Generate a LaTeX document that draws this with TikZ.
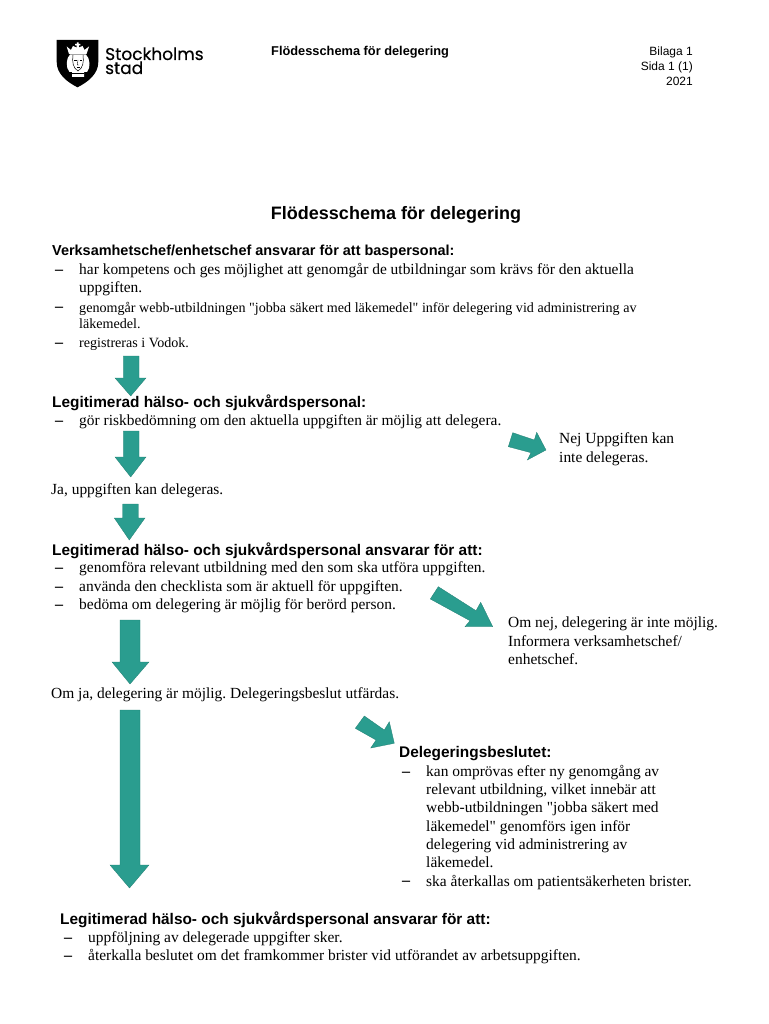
\documentclass[tikz,border=0pt]{standalone}
\usepackage{fontspec}
\setsansfont{Liberation Sans}
\newfontfamily\brodfont{Liberation Serif}
\newfontfamily\logofont[FakeBold=0.4]{Poppins}
\definecolor{pilfarg}{HTML}{2A9D8F}
\tikzset{
  pil/.style={fill=pilfarg, draw=pilfarg!80!black, line width=0.3pt},
  brod/.style={anchor=base west, inner sep=0pt, font=\brodfont\frenchspacing\fontsize{15.45}{16}\selectfont},
  rubrik/.style={anchor=base west, inner sep=0pt, font=\sffamily\bfseries\fontsize{15.4}{16}\selectfont},
  sidhuvud/.style={anchor=base east, inner sep=0pt, font=\sffamily\fontsize{12}{14}\selectfont},
  streck/.style={anchor=base west, inner sep=0pt, font=\brodfont\bfseries\fontsize{16}{16}\selectfont},
}
\begin{document}
\begin{tikzpicture}[x=1pt, y=-1pt]
  \useasboundingbox (0,0) rectangle (768,1024);

  % Logotyp
  \fill[black] (56.7,40) -- (98.3,40) -- (98.3,62) .. controls (98.3,74) and (88,82) .. (77.5,87.3)
    .. controls (67,82) and (56.7,74) .. (56.7,62) -- cycle;
  % krona
  \fill[white] (66.7,46.5) -- (71,50) -- (73,46) -- (76.5,47.5) -- (76.5,45.5) -- (75,45.5) -- (75,44) -- (76.8,44) -- (76.8,42.5)
    -- (78.5,42.5) -- (78.5,44) -- (80.3,44) -- (80.3,45.5) -- (78.8,45.5) -- (78.8,47.5) -- (82.5,46) -- (84.5,50) -- (89,46.5)
    -- (86.5,54) -- (69,54) -- cycle;
  % hår och hals
  \fill[white] (70,54.5) .. controls (66,58) and (65.5,68) .. (69.5,72) -- (72,72) -- (72,77) -- (84,77) -- (84,72)
    -- (87,72) .. controls (91,68) and (90,58) .. (86,54.5) -- cycle;
  % ansikte
  \draw[black, line width=0.5pt] (73,55) .. controls (72,62) and (73,68) .. (78,71) .. controls (83,68) and (84,62) .. (83,55);
  \draw[black, line width=0.5pt] (74,60) -- (76.5,60) (79.5,60) -- (82,60);
  \draw[black, line width=0.4pt] (78,60) -- (77.3,65) -- (79,65);
  \draw[black, line width=0.4pt] (76.5,67.5) -- (79.8,67.5);
  \draw[black, line width=0.4pt] (72,73.5) -- (84,73.5);
  \node[anchor=base west, inner sep=0pt, font=\logofont\fontsize{17}{20}\selectfont] (logo1) at (105,60) {Stockholms};
  \node[anchor=base west, inner sep=0pt, font=\logofont\fontsize{17}{20}\selectfont] (logo2) at (105,74) {stad};

  % Sidhuvud
  \node[anchor=base west, inner sep=0pt, font=\sffamily\bfseries\fontsize{12.8}{14}\selectfont] (huvud) at (271,56) {Flödesschema för delegering};
  \node[sidhuvud] (bilaga) at (693,56) {Bilaga 1};
  \node[sidhuvud] (sida) at (693,71) {Sida 1 (1)};
  \node[sidhuvud] (ar) at (693,86) {2021};

  % Titel
  \node[anchor=base, inner sep=0pt, font=\sffamily\bfseries\fontsize{18}{20}\selectfont] (titel) at (396,220) {Flödesschema för delegering};

  % Verksamhetschef
  \node[rubrik, font=\sffamily\bfseries\fontsize{14.45}{16}\selectfont] (r1) at (52,255) {Verksamhetschef/enhetschef ansvarar för att baspersonal:};
  \node[streck] (s1) at (55,274) {–};
  \node[brod] (t1a) at (79,274) {har kompetens och ges möjlighet att genomgår de utbildningar som krävs för den aktuella};
  \node[brod] (t1b) at (79,292) {uppgiften.};
  \node[streck] (s2) at (55,311) {–};
  \node[brod, font=\brodfont\fontsize{14.1}{16}\selectfont] (t2a) at (79,312) {genomgår webb-utbildningen "jobba säkert med läkemedel" inför delegering vid administrering av};
  \node[brod, font=\brodfont\fontsize{14.1}{16}\selectfont] (t2b) at (79,328) {läkemedel.};
  \node[streck] (s3) at (55,347) {–};
  \node[brod, font=\brodfont\fontsize{14.1}{16}\selectfont] (t3) at (79,347) {registreras i Vodok.};

  % Legitimerad 1
  \node[rubrik] (r2) at (52,407) {Legitimerad hälso- och sjukvårdspersonal:};
  \node[streck] (s4) at (55,425) {–};
  \node[brod] (t4) at (79,425) {gör riskbedömning om den aktuella uppgiften är möjlig att delegera.};
  \node[brod] (nej1) at (559,443) {Nej Uppgiften kan};
  \node[brod] (nej2) at (559,462) {inte delegeras.};
  \node[brod] (ja) at (51,494) {Ja, uppgiften kan delegeras.};

  % Legitimerad 2
  \node[rubrik] (r3) at (52,555) {Legitimerad hälso- och sjukvårdspersonal ansvarar för att:};
  \node[streck] (s5) at (55,572) {–};
  \node[brod] (t5) at (79,572) {genomföra relevant utbildning med den som ska utföra uppgiften.};
  \node[streck] (s6) at (55,591) {–};
  \node[brod] (t6) at (79,591) {använda den checklista som är aktuell för uppgiften.};
  \node[streck] (s7) at (55,609) {–};
  \node[brod] (t7) at (79,609) {bedöma om delegering är möjlig för berörd person.};
  \node[brod] (om1) at (508,627) {Om nej, delegering är inte möjlig.};
  \node[brod] (om2) at (508,646) {Informera verksamhetschef/};
  \node[brod] (om3) at (508,664) {enhetschef.};
  \node[brod] (omja) at (51,698) {Om ja, delegering är möjlig. Delegeringsbeslut utfärdas.};

  % Delegeringsbeslutet
  \node[rubrik] (r4) at (399,757) {Delegeringsbeslutet:};
  \node[streck] (s8) at (402,776) {–};
  \node[brod] (t8a) at (426,776) {kan omprövas efter ny genomgång av};
  \node[brod] (t8b) at (426,794) {relevant utbildning, vilket innebär att};
  \node[brod] (t8c) at (426,812) {webb-utbildningen "jobba säkert med};
  \node[brod] (t8d) at (426,831) {läkemedel" genomförs igen inför};
  \node[brod] (t8e) at (426,849) {delegering vid administrering av};
  \node[brod] (t8f) at (426,867) {läkemedel.};
  \node[streck] (s9) at (402,885) {–};
  \node[brod] (t9) at (426,886) {ska återkallas om patientsäkerheten brister.};

  % Legitimerad 3
  \node[rubrik] (r5) at (60,924) {Legitimerad hälso- och sjukvårdspersonal ansvarar för att:};
  \node[streck] (s10) at (64,942) {–};
  \node[brod] (t10) at (88,942) {uppföljning av delegerade uppgifter sker.};
  \node[streck] (s11) at (64,960) {–};
  \node[brod] (t11) at (88,960) {återkalla beslutet om det framkommer brister vid utförandet av arbetsuppgiften.};

  % Pilar nedåt
  \filldraw[pil] (123.3,356) -- (139,356) -- (139,378) -- (146,378) -- (130.7,396) -- (115,378) -- (123.3,378) -- cycle;
  \filldraw[pil] (123.3,431) -- (139,431) -- (139,457) -- (146,457) -- (130.7,477) -- (115,457) -- (123.3,457) -- cycle;
  \filldraw[pil] (122.7,504) -- (138.3,504) -- (138.3,518) -- (145,518) -- (129.3,540) -- (114.3,518) -- (122.7,518) -- cycle;
  \filldraw[pil] (120,620) -- (140,620) -- (140,662) -- (149,662) -- (130,684) -- (112,662) -- (120,662) -- cycle;
  \filldraw[pil] (120,710) -- (140,710) -- (140,865) -- (149,865) -- (129.5,888) -- (110,865) -- (120,865) -- cycle;

  % Pilar snett
  \filldraw[pil] (512.7,432.7) -- (534.3,440) -- (536.7,432.3) -- (546,450) -- (527.3,460) -- (531,452.7) -- (508.3,446.7) -- cycle;
  \filldraw[pil] (438.3,586.7) -- (476,610.7) -- (480.7,602.3) -- (492.7,626.7) -- (465,626.7) -- (470,620.7) -- (430.3,599) -- cycle;
  \filldraw[pil] (364.3,716) -- (384.3,730) -- (389.3,721.7) -- (394.3,743.3) -- (370.7,748) -- (376,740) -- (355.3,728.3) -- cycle;

\end{tikzpicture}
\end{document}
